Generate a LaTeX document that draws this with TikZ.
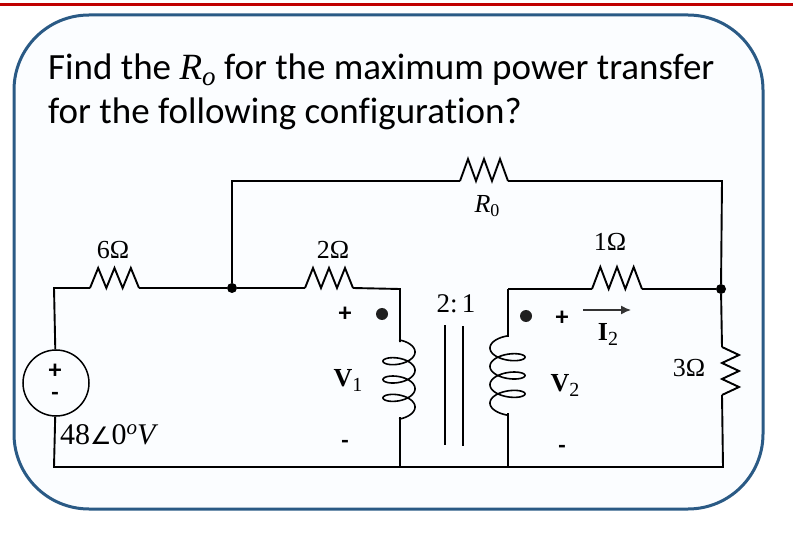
\documentclass[tikz,border=0pt]{standalone}
\usepackage{fontspec}
\usetikzlibrary{arrows.meta}
\setmainfont{Carlito}[Ligatures=NoCommon]
\newfontfamily\mf{Liberation Serif}
\newfontfamily\symf{DejaVu Sans}
\newcommand{\ohm}[1]{#1Ω}
\newcommand{\hres}[5]{% name, x1, x2, ywire, ytop
  \pgfmathsetmacro{\dx}{(#3-#2)/6}
  \coordinate (#1a) at (#2,#4);
  \coordinate (#1b) at (#3,#4);
  \draw[wire] (#1a) -- ++(\dx,#5-#4) -- ++(\dx,#4-#5) -- ++(\dx,#5-#4) -- ++(\dx,#4-#5) -- ++(\dx,#5-#4) -- (#1b);
}
\tikzset{
  wire/.style={line width=1.9pt,black,line join=miter},
  coil/.style={line width=1.6pt,black},
  junction/.style={circle,fill=black,inner sep=0pt,minimum size=10pt},
  polarity/.style={circle,fill=black!88,inner sep=0pt,minimum size=12pt},
  lbl/.style={inner sep=0pt,font=\mf\fontsize{26}{28}\selectfont},
  sign/.style={inner sep=0pt,font=\bfseries\fontsize{26}{26}\selectfont},
  minussign/.style={inner sep=0pt,font=\bfseries\fontsize{24}{24}\selectfont},
  title/.style={inner sep=0pt,anchor=base west,font=\fontsize{37}{39}\selectfont},
}
\begin{document}
\begin{tikzpicture}[x=1pt,y=-1pt]
\useasboundingbox (0,0) rectangle (793,540);
% frame
\draw[line width=3pt,color={rgb,255:red,192;green,0;blue,0}] (0,4.5) -- (793,4.5);
\draw[line width=3pt,draw={rgb,255:red,42;green,90;blue,133},fill={rgb,255:red,251;green,253;blue,255},rounded corners=75pt] (14,15) rectangle (763,509);
% title
\node[title] (t1) at (48,80) {Find the {\mf\itshape R}\raisebox{-6pt}{\mf\itshape\fontsize{27}{27}\selectfont o} for the maximum power transfer};
\node[title] (t2) at (48,124) {for the following configuration?};
% named points
\coordinate (tl) at (232,181);
\coordinate (tr) at (722,181);
\node[junction] (ja) at (232,288) {};
\node[junction] (jb) at (721,289) {};
\coordinate (bl) at (54,467);
\coordinate (br) at (723,467);
\coordinate (ul) at (54,288);
\coordinate (l1t) at (400,289);
\coordinate (l1u) at (400,342);
\coordinate (l1d) at (400,417);
\coordinate (l1b) at (400,467);
\coordinate (l2t) at (508,289);
\coordinate (l2u) at (508,337);
\coordinate (l2d) at (508,413);
\coordinate (l2b) at (508,467);
\coordinate (r3a) at (722,347);
\coordinate (r3b) at (722,395);
\node[circle,draw,line width=1.5pt,minimum size=66pt,inner sep=0pt,fill={rgb,255:red,251;green,253;blue,255}] (src) at (56,383) {};
% resistors
\hres{r0}{460}{508}{181}{159}
\hres{r6}{90}{139}{288}{268}
\hres{r2}{305}{353}{288}{268}
\hres{r1}{592}{642}{289}{267}
\draw[wire] (r3a) -- ++(17,8) -- ++(-17,8) -- ++(17,8) -- ++(-17,8) -- ++(17,8) -- (r3b);
% wires
\draw[wire] (ja) -- (tl) -- (r0a);
\draw[wire] (r0b) -- (tr) -- (jb);
\draw[wire] (src) -- (ul) -- (r6a);
\draw[wire] (r6b) -- (ja) -- (r2a);
\draw[wire] (r2b) -- (l1t) -- (l1u);
\draw[wire] (l1d) -- (l1b);
\draw[wire] (l2t) -- (l2u);
\draw[wire] (l2d) -- (l2b);
\draw[wire] (l2t) -- (r1a);
\draw[wire] (r1b) -- (jb) -- (r3a);
\draw[wire] (r3b) -- (br) -- (bl) -- (src);
% coils
\draw[coil] plot[domain=1.5708:23.5619,samples=360,smooth,variable=\t]
  ({507.5+17.5*cos(\t r)},{348+2.92*(\t-3.1416)-7.5*sin(\t r)});
\draw[coil] plot[domain=1.5708:23.5619,samples=360,smooth,variable=\t]
  ({399-16*cos(\t r)},{352+2.92*(\t-3.1416)-7.5*sin(\t r)});
% core
\coordinate (c1a) at (445,325); \coordinate (c1b) at (445,445);
\coordinate (c2a) at (463,326); \coordinate (c2b) at (463,446);
\draw[wire] (c1a) -- (c1b);
\draw[wire] (c2a) -- (c2b);
% polarity
\node[polarity] (d1) at (382,314) {};
\node[polarity] (d2) at (526,316) {};
% arrow
\coordinate (ia) at (583,310); \coordinate (ib) at (631,310);
\draw[line width=1.4pt,black!80,-{Latex[length=10pt,width=9pt]}] (ia) -- (ib);
% labels
\node[lbl] (l6) at (113,250) {\ohm{6}};
\node[lbl] (l2) at (333,250) {\ohm{2}};
\node[lbl] (l1) at (610,242) {\ohm{1}};
\node[lbl] (l3) at (689,368) {\ohm{3}};
\node[lbl] (lr) at (487,206) {{\itshape R}\raisebox{-4pt}{\fontsize{18}{18}\selectfont 0}};
\node[lbl,font=\mf\fontsize{27}{28}\selectfont] (lt) at (456,304) {2:\,1};
\node[lbl] (lv1) at (348,380) {{\bfseries V}\raisebox{-5pt}{\fontsize{20}{20}\selectfont 1}};
\node[lbl] (lv2) at (565,385) {{\bfseries V}\raisebox{-5pt}{\fontsize{20}{20}\selectfont 2}};
\node[lbl] (li2) at (608,334) {{\bfseries I}\raisebox{-5pt}{\fontsize{20}{20}\selectfont 2}};
\node[sign] (p1) at (345,314) {+};
\node[sign] (p2) at (562,318) {+};
\node[minussign] (m1) at (345,444) {-};
\node[minussign] (m2) at (562,449) {-};
\node[sign] (ps) at (55,371) {+};
\node[minussign] (ms) at (55,396) {-};
\node[lbl,anchor=west,font=\mf\fontsize{30}{30}\selectfont] (lsrc) at (60,435) {48{\symf\fontsize{24}{24}\selectfont ∠}0{\raisebox{10pt}{\itshape\fontsize{21}{21}\selectfont o}}{\itshape V}};
\end{tikzpicture}
\end{document}
